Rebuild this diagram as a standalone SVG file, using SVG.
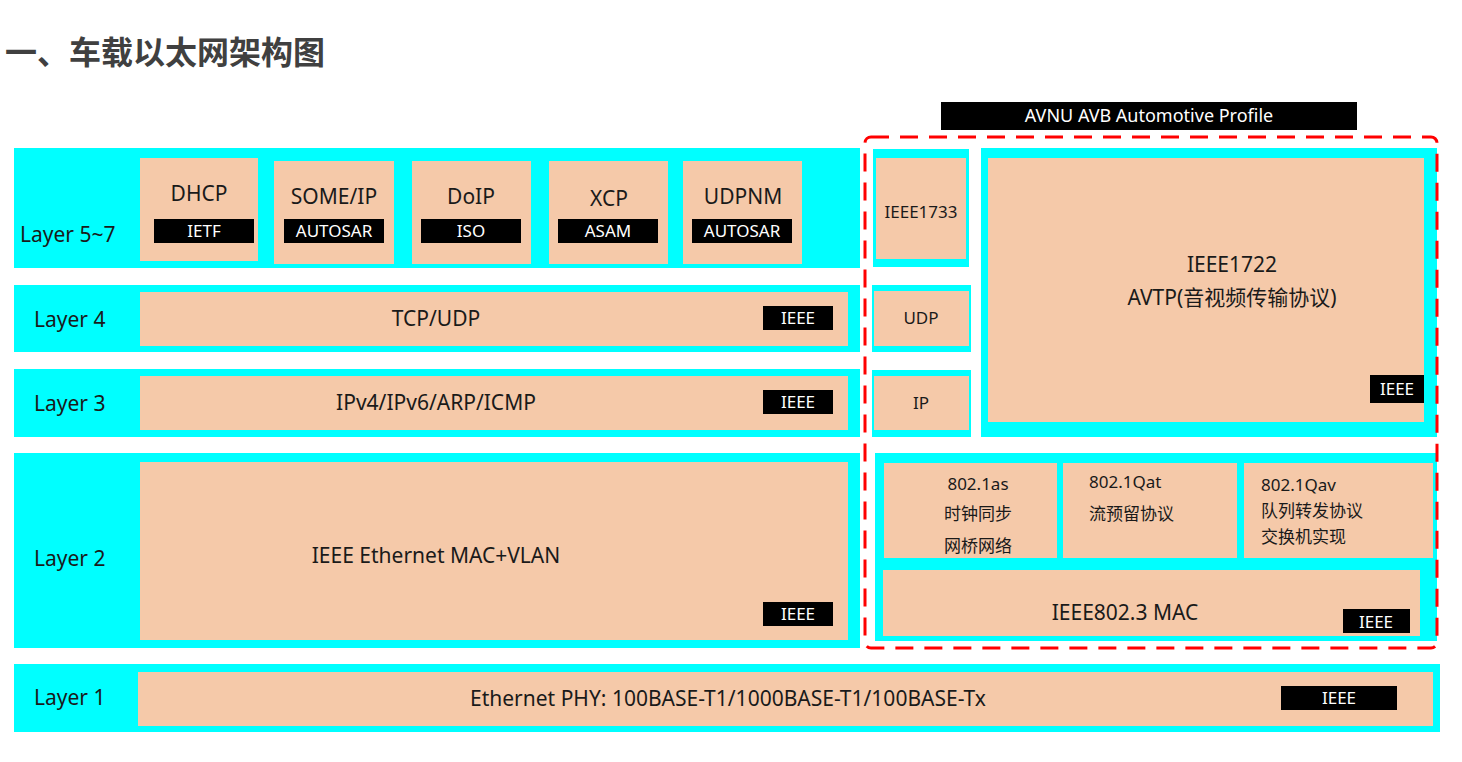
<svg xmlns="http://www.w3.org/2000/svg" width="1462" height="762" viewBox="0 0 1462 762">
<style>
text{font-family:"Noto Sans","Noto Sans CJK SC",sans-serif;fill:#1a1a1a}
.c{fill:#00ffff}
.s{fill:#f5c9a9}
.b{fill:#000}
.w{fill:#fff;font-size:17px;text-anchor:middle}
.m{text-anchor:middle}
.t20{font-size:21px}
.t18{font-size:17px}
</style>
<rect width="1462" height="762" fill="#fff"/>
<text x="5" y="64" style="font-size:32px;font-weight:bold;fill:#404040;font-family:'Noto Sans CJK SC',sans-serif">一、车载以太网架构图</text>
<g id="avnu"><rect class="b" x="941" y="102" width="416" height="28"/><text class="w" x="1149" y="122" style="font-size:18px">AVNU AVB Automotive Profile</text></g>
<g id="layer57"><rect class="c" x="14" y="148" width="846" height="120"/><text class="t20" x="20" y="242">Layer 5~7</text>
<g id="dhcp"><rect class="s" x="140" y="158" width="118" height="103"/><text class="m t20" x="199" y="201">DHCP</text><rect class="b" x="154" y="219" width="100" height="24"/><text class="w" x="204" y="237">IETF</text></g>
<g id="someip"><rect class="s" x="274" y="161" width="120" height="103"/><text class="m t20" x="334" y="204">SOME/IP</text><rect class="b" x="284" y="219" width="100" height="24"/><text class="w" x="334" y="237">AUTOSAR</text></g>
<g id="doip"><rect class="s" x="412" y="161" width="119" height="103"/><text class="m t20" x="471" y="204">DoIP</text><rect class="b" x="421" y="219" width="100" height="24"/><text class="w" x="471" y="237">ISO</text></g>
<g id="xcp"><rect class="s" x="549" y="161" width="119" height="103"/><text class="m t20" x="609" y="206">XCP</text><rect class="b" x="558" y="219" width="100" height="24"/><text class="w" x="608" y="237">ASAM</text></g>
<g id="udpnm"><rect class="s" x="683" y="161" width="119" height="103"/><text class="m t20" x="743" y="204">UDPNM</text><rect class="b" x="692" y="219" width="100" height="24"/><text class="w" x="742" y="237">AUTOSAR</text></g>
</g>
<g id="layer4"><rect class="c" x="14" y="285" width="846" height="67"/><text class="t20" x="34" y="327">Layer 4</text><rect class="s" x="140" y="292" width="708" height="54"/><text class="m t20" x="436" y="326">TCP/UDP</text><rect class="b" x="763" y="306" width="70" height="24"/><text class="w" x="798" y="324">IEEE</text></g>
<g id="layer3"><rect class="c" x="14" y="369" width="846" height="68"/><text class="t20" x="34" y="411">Layer 3</text><rect class="s" x="140" y="376" width="708" height="54"/><text class="m t20" x="436" y="410">IPv4/IPv6/ARP/ICMP</text><rect class="b" x="763" y="390" width="70" height="24"/><text class="w" x="798" y="408">IEEE</text></g>
<g id="layer2"><rect class="c" x="14" y="453" width="846" height="195"/><text class="t20" x="34" y="566">Layer 2</text><rect class="s" x="140" y="462" width="708" height="178"/><text class="m t20" x="436" y="563">IEEE Ethernet MAC+VLAN</text><rect class="b" x="763" y="602" width="70" height="24"/><text class="w" x="798" y="620">IEEE</text></g>
<g id="layer1"><rect class="c" x="14" y="664" width="1426" height="68"/><text class="t20" x="34" y="705">Layer 1</text><rect class="s" x="138" y="672" width="1295" height="54"/><text class="m t20" x="728" y="706">Ethernet PHY: 100BASE-T1/1000BASE-T1/100BASE-Tx</text><rect class="b" x="1281" y="686" width="116" height="24"/><text class="w" x="1339" y="704">IEEE</text></g>
<g id="ieee1733"><rect class="c" x="873" y="149" width="96" height="118"/><rect class="s" x="876" y="158" width="90" height="101"/><text class="m t18" x="921" y="218">IEEE1733</text></g>
<g id="udp"><rect class="c" x="872" y="285" width="99" height="67"/><rect class="s" x="874" y="291" width="95" height="55"/><text class="m t18" x="921" y="324">UDP</text></g>
<g id="ip"><rect class="c" x="872" y="370" width="99" height="67"/><rect class="s" x="874" y="376" width="95" height="54"/><text class="m t18" x="921" y="409">IP</text></g>
<g id="ieee1722"><rect class="c" x="981" y="148" width="456" height="289"/><rect class="s" x="988" y="158" width="436" height="264"/><text class="m t20" x="1232" y="272">IEEE1722</text><text class="m t20" x="1232" y="305">AVTP(音视频传输协议)</text><rect class="b" x="1370" y="375" width="54" height="28"/><text class="w" x="1397" y="395">IEEE</text></g>
<g id="avb"><rect class="c" x="875" y="453" width="562" height="188"/>
<g id="as"><rect class="s" x="884" y="463" width="173" height="95"/><text class="m t18" x="978" y="490">802.1as</text><text class="m t18" x="978" y="520">时钟同步</text><text class="m t18" x="978" y="552">网桥网络</text></g>
<g id="qat"><rect class="s" x="1063" y="463" width="174" height="95"/><text class="t18" x="1089" y="488">802.1Qat</text><text class="t18" x="1089" y="520">流预留协议</text></g>
<g id="qav"><rect class="s" x="1244" y="463" width="189" height="95"/><text class="t18" x="1261" y="491">802.1Qav</text><text class="t18" x="1261" y="517">队列转发协议</text><text class="t18" x="1261" y="543">交换机实现</text></g>
<g id="mac"><rect class="s" x="883" y="570" width="537" height="66"/><text class="m t20" x="1125" y="620">IEEE802.3 MAC</text><rect class="b" x="1343" y="609" width="67" height="24"/><text class="w" x="1376" y="628">IEEE</text></g>
</g>
<g id="connectors"><rect x="865" y="137" width="572" height="511" rx="6" fill="none" stroke="#ff0000" stroke-width="3" stroke-dasharray="18,11"/></g>
</svg>
